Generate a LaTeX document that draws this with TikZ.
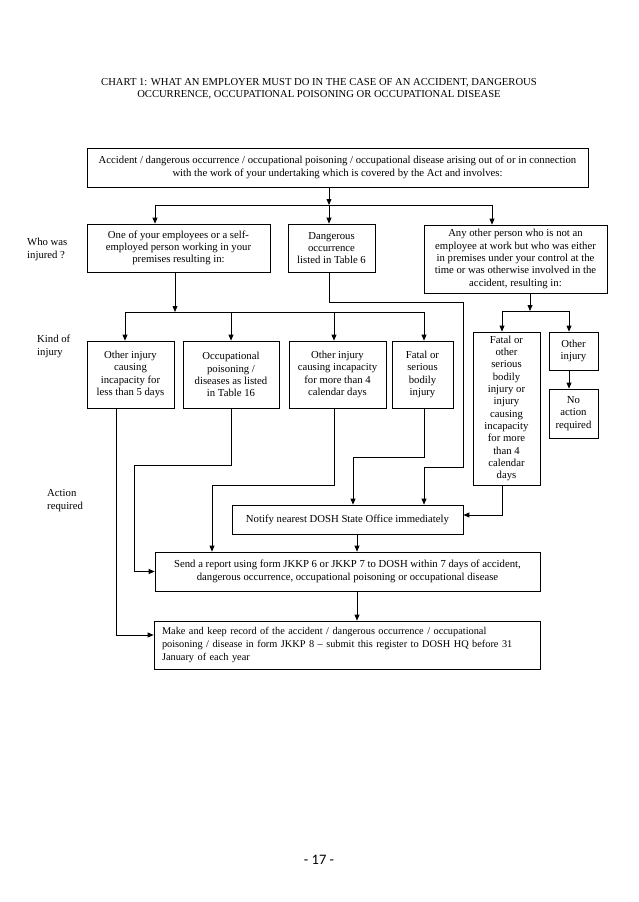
\documentclass[tikz,border=0pt]{standalone}
\usepackage{fontspec}
\setmainfont{Liberation Serif}
\newfontfamily\pagefont{Carlito}
\usetikzlibrary{arrows.meta,calc}
\def\u{0.9333pt}
\tikzset{
  box/.style={draw, line width=0.7pt, inner sep=1pt, align=center, font=\fontsize{10}{11.5}\selectfont},
  lbl/.style={inner sep=0pt, align=left, anchor=west, font=\fontsize{10}{12}\selectfont},
  ln/.style={line width=0.7pt},
  arr/.style={line width=0.7pt, -{Triangle[length=5.5pt,width=4.5pt]}},
}
\begin{document}
\begin{tikzpicture}[x=0.9333pt, y=-0.9333pt]
\useasboundingbox[fill=white] (0,0) rectangle (638,902);
% title
\node[inner sep=0pt, align=center, font=\fontsize{9.9}{11.6}\selectfont] (title) at (319,89)
  {CHART 1: WHAT AN EMPLOYER MUST DO IN THE CASE OF AN ACCIDENT, DANGEROUS\\
   OCCURRENCE, OCCUPATIONAL POISONING OR OCCUPATIONAL DISEASE};
% side labels
\node[lbl] (who) at (27,249.5) {Who was\\injured ?};
\node[lbl] (kind) at (37,346) {Kind of\\injury};
\node[lbl] (act) at (47,500.5) {Action\\required};
% boxes
\node[box, minimum width=501*\u, minimum height=39*\u] (T) at (337.5,167.5)
  {Accident / dangerous occurrence / occupational poisoning / occupational disease arising out of or in connection\\
   with the work of your undertaking which is covered by the Act and involves:};
\node[box, minimum width=183*\u, minimum height=48*\u] (A) at (178.5,248)
  {One of your employees or a self-\\employed person working in your\\premises resulting in:};
\node[box, minimum width=87*\u, minimum height=48*\u] (B) at (331.5,248)
  {Dangerous\\occurrence\\listed in Table 6};
\node[box, minimum width=183*\u, minimum height=68*\u] (C) at (515.5,259)
  {Any other person who is not an\\employee at work but who was either\\in premises under your control at the\\time or was otherwise involved in the\\accident, resulting in:};
\node[box, minimum width=87*\u, minimum height=67*\u] (b1) at (130.5,374.5)
  {Other injury\\causing\\incapacity for\\less than 5 days};
\node[box, minimum width=96*\u, minimum height=67*\u] (b2) at (231,374.5)
  {Occupational\\poisoning /\\diseases as listed\\in Table 16};
\node[box, minimum width=97*\u, minimum height=67*\u] (b3) at (337.5,374.5)
  {Other injury\\causing incapacity\\for more than 4\\calendar days};
\node[box, minimum width=61*\u, minimum height=67*\u] (b4) at (422.5,374.5)
  {Fatal or\\serious\\bodily\\injury};
\node[box, minimum width=67*\u, minimum height=153*\u] (Fa) at (506.5,408.5)
  {Fatal or\\other\\serious\\bodily\\injury or\\injury\\causing\\incapacity\\for more\\than 4\\calendar\\days};
\node[box, minimum width=49*\u, minimum height=38*\u] (OI) at (573.5,351)
  {Other\\injury};
\node[box, minimum width=49*\u, minimum height=49*\u] (NA) at (573.5,413.5)
  {No\\action\\required};
\node[box, minimum width=231*\u, minimum height=29*\u] (N) at (347.5,519.5)
  {Notify nearest DOSH State Office immediately};
\node[box, minimum width=385*\u, minimum height=39*\u] (S) at (347.5,571.5)
  {Send a report using form JKKP 6 or JKKP 7 to DOSH within 7 days of accident,\\
   dangerous occurrence, occupational poisoning or occupational disease};
\node[box, minimum width=386*\u, minimum height=48*\u, align=left, text width=370*\u,
      font=\fontsize{9.65}{12.3}\selectfont] (M) at (347,645)
  {Make and keep record of the accident / dangerous occurrence / occupational\\
   poisoning / disease in form JKKP 8 -- submit this register to DOSH HQ before 31\\
   January of each year};
\node[inner sep=0pt, font=\pagefont\fontsize{13.5}{15}\selectfont] (pg) at (319,860) {- 17 -};
% junction coordinates
\coordinate (s1) at (329,205);
\coordinate (s1L) at (155,205);
\coordinate (s1R) at (492,205);
\coordinate (s2) at (175,312);
\coordinate (s2L) at (125,312);
\coordinate (s2b) at (231,312);
\coordinate (s2c) at (334,312);
\coordinate (s2R) at (424,312);
\coordinate (s3) at (530,311);
\coordinate (s3L) at (502,311);
\coordinate (s3R) at (569,311);
\coordinate (pB1) at (463,302);
\coordinate (pB2) at (424,467);
\coordinate (pD) at (353,457);
\coordinate (pC) at (212,485);
\coordinate (pE) at (134,465);
\coordinate (pF) at (116,635);
\coordinate (pG) at (502,515);
\coordinate (xN) at (357,545);
% connectors level 1
\draw[arr] (T.south -| s1) -- (s1);
\draw[ln] (s1L) -- (s1R);
\draw[arr] (s1L) -- (s1L |- A.north);
\draw[arr] (s1) -- (s1 |- B.north);
\draw[arr] (s1R) -- (s1R |- C.north);
% level 2 (employees)
\draw[arr] (A.south -| s2) -- (s2);
\draw[ln] (s2L) -- (s2R);
\draw[arr] (s2L) -- (s2L |- b1.north);
\draw[arr] (s2b) -- (s2b |- b2.north);
\draw[arr] (s2c) -- (s2c |- b3.north);
\draw[arr] (s2R) -- (s2R |- b4.north);
% level 2 (other person)
\draw[arr] (C.south -| s3) -- (s3);
\draw[ln] (s3L) -- (s3R);
\draw[arr] (s3L) -- (s3L |- Fa.north);
\draw[arr] (s3R) -- (s3R |- OI.north);
\draw[arr] (OI.south -| s3R) -- (NA.north -| s3R);
% to actions
\draw[arr] (s1 |- B.south) |- (pB1) |- (pB2) -- (pB2 |- N.north);
\draw[arr] (b4.south -| s2R) |- (pD) -- (pD |- N.north);
\draw[arr] (b3.south -| s2c) |- (pC) -- (pC |- S.north);
\draw[arr] (b2.south -| s2b) |- (pE) |- (S.west);
\draw[arr] (b1.south -| pF) -- (pF) -- (pF -| M.west);
\draw[arr] (Fa.south -| pG) -- (pG) -- (pG -| N.east);
\draw[arr] (N.south -| xN) -- (S.north -| xN);
\draw[arr] (S.south -| xN) -- (M.north -| xN);
\end{tikzpicture}
\end{document}
